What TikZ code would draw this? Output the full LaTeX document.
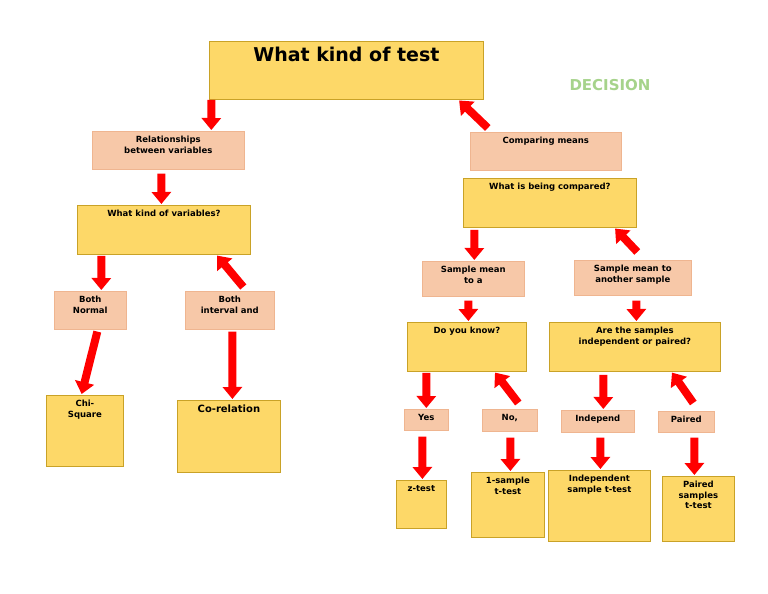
\documentclass[tikz,border=0pt]{standalone}
\usepackage{fontspec}
\setmainfont{DejaVu Sans}
\usetikzlibrary{arrows.meta}
\definecolor{yel}{HTML}{FDD868}
\definecolor{yelb}{HTML}{C9A227}
\definecolor{sal}{HTML}{F7C8A8}
\definecolor{salb}{HTML}{EFB590}
\definecolor{grn}{HTML}{A6D38B}
\begin{document}
\begin{tikzpicture}[x=1pt,y=-1pt,
  ybox/.style={draw=yelb,fill=yel,line width=0.8pt,anchor=north west,inner sep=0pt},
  sbox/.style={draw=salb,fill=sal,line width=0.6pt,anchor=north west,inner sep=0pt},
  txt/.style={font=\bfseries\fontsize{8.5}{10.5}\selectfont,align=center,anchor=north,inner sep=0pt},
  barrow/.style={draw=red,line width=8pt,-{Triangle[width=19pt,length=12pt]},shorten >=1pt},
  tl/.style={label={[txt,yshift=-5pt]north:#1}}]
\useasboundingbox (0,0) rectangle (768,594);
\newcommand\bx[7]{\node[#1,minimum width=#5-#3,minimum height=#6-#4,tl={#7}] (#2) at (#3,#4) {};}
\node[draw=yelb,fill=yel,line width=0.8pt,anchor=north west,minimum width=274,minimum height=58,inner sep=0pt] (title) at (209,41) {};
\node[font=\bfseries\fontsize{19}{22}\selectfont,anchor=north] (tt) at ([yshift=-3]title.north) {What kind of test};
\node[font=\bfseries\fontsize{15}{18}\selectfont,text=grn] (dec) at (610,85) {DECISION};
\bx{sbox}{rel}{92}{131}{244}{169}{Relationships\\between variables}
\bx{sbox}{cmp}{470}{132}{621}{170}{Comparing means}
\bx{ybox}{wkv}{77}{205}{250}{254}{What kind of variables?}
\bx{ybox}{wbc}{463}{178}{636}{227}{What is being compared?}
\bx{sbox}{bn}{54}{291}{126}{329}{Both\\Normal}
\bx{sbox}{bi}{185}{291}{274}{329}{Both\\interval and}
\bx{ybox}{chi}{46}{395}{123}{466}{Chi-\\Square}
\bx{ybox}{cor}{177}{400}{280}{472}{\fontsize{10}{12}\selectfont Co-relation}
\bx{sbox}{sma}{422}{261}{524}{296}{Sample mean\\to a}
\bx{sbox}{smo}{574}{260}{691}{295}{Sample mean to\\another sample}
\bx{ybox}{dyk}{407}{322}{526}{371}{Do you know?}
\bx{ybox}{ats}{549}{322}{720}{371}{Are the samples\\independent or paired?}
\bx{sbox}{yes}{404}{409}{448}{430}{Yes}
\bx{sbox}{no}{482}{409}{537}{431}{No,}
\bx{sbox}{ind}{561}{410}{634}{432}{Independ}
\bx{sbox}{pai}{658}{411}{714}{432}{Paired}
\bx{ybox}{zt}{396}{480}{446}{528}{z-test}
\bx{ybox}{ost}{471}{472}{544}{537}{1-sample\\t-test}
\bx{ybox}{ist}{548}{470}{650}{541}{Independent\\sample t-test}
\bx{ybox}{pst}{662}{476}{734}{541}{Paired\\samples\\t-test}
% vertical arrows
\draw[barrow] ([xshift=-135]title.south) -- ([xshift=43]rel.north);
\draw[barrow] ([xshift=-7]rel.south) ++(0,4) -- ([xshift=-2.5]wkv.north);
\draw[barrow] ([xshift=-62.5]wkv.south) ++(0,1) -- ([xshift=11]bn.north);
\draw[barrow] ([xshift=7]bn.south) ++(0,2) -- ([xshift=-3.5]chi.north);
\draw[barrow] ([xshift=2.5]bi.south) ++(0,2) -- ([xshift=3.5]cor.north);
\draw[barrow] ([xshift=-75.5]wbc.south) ++(0,2) -- ([xshift=1]sma.north);
\draw[barrow] ([xshift=-5]sma.south) ++(0,4) -- ([xshift=1.5]dyk.north);
\draw[barrow] ([xshift=3.5]smo.south) ++(0,5) -- ([xshift=1.5]ats.north);
\draw[barrow] ([xshift=-40.5]dyk.south) ++(0,1) -- ([xshift=0]yes.north);
\draw[barrow] ([xshift=-31.5]ats.south) ++(0,3) -- ([xshift=5.5]ind.north);
\draw[barrow] ([xshift=-4]yes.south) ++(0,6) -- ([xshift=1]zt.north);
\draw[barrow] ([xshift=0.5]no.south) ++(0,6) -- ([xshift=2.5]ost.north);
\draw[barrow] ([xshift=2.5]ind.south) ++(0,5) -- ([xshift=1]ist.north);
\draw[barrow] ([xshift=8]pai.south) ++(0,5) -- ([xshift=-4]pst.north);
% diagonal arrows
\draw[barrow] ([xshift=-58]cmp.north) ++(0,-4) -- ([xshift=112]title.south);
\draw[barrow] ([xshift=13.5]bi.north) ++(0,-4) -- ([xshift=52.5]wkv.south);
\draw[barrow] ([xshift=4.5]smo.north) ++(0,-8) -- ([xshift=64.5]wbc.south);
\draw[barrow] ([xshift=8.5]no.north) ++(0,-6) -- ([xshift=27.5]dyk.south);
\draw[barrow] ([xshift=7]pai.north) ++(0,-8) -- ([xshift=36.5]ats.south);
\end{tikzpicture}
\end{document}
